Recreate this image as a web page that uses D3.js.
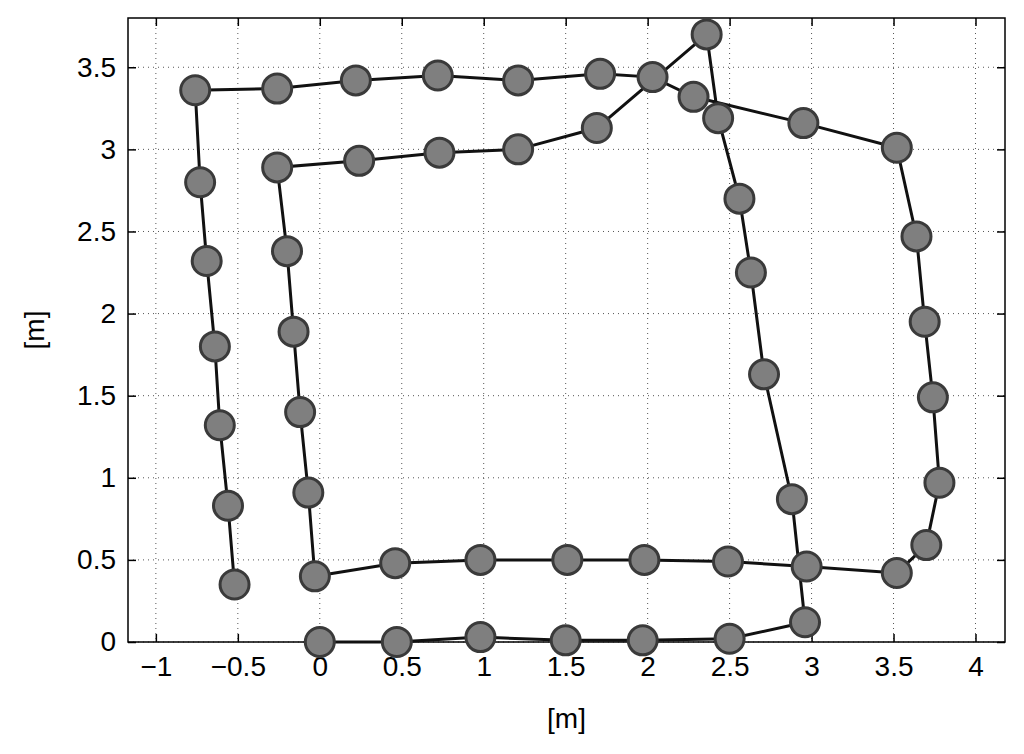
<!DOCTYPE html><html><head><meta charset="utf-8">
<script src="https://cdn.jsdelivr.net/npm/d3@7"></script>
<style>body{margin:0;background:#fff}</style></head><body>
<svg id="c" width="1024" height="754"></svg>
<script>
const xs=[0,0.47,0.98,1.5,1.97,2.5,2.96,2.88,2.71,2.63,2.56,2.43,2.36,1.69,1.21,0.73,0.24,-0.26,-0.2,-0.16,-0.12,-0.07,-0.03,0.46,0.98,1.51,1.98,2.49,2.97,3.52,3.7,3.78,3.74,3.69,3.64,3.52,2.95,2.28,2.03,1.71,1.21,0.72,0.22,-0.26,-0.76,-0.73,-0.69,-0.64,-0.61,-0.56,-0.52];
const ys=[0,0,0.03,0.01,0.01,0.02,0.12,0.87,1.63,2.25,2.7,3.19,3.7,3.13,3.0,2.98,2.93,2.89,2.38,1.89,1.4,0.91,0.4,0.48,0.5,0.5,0.5,0.49,0.46,0.42,0.59,0.97,1.49,1.95,2.47,3.01,3.16,3.32,3.44,3.46,3.42,3.45,3.42,3.37,3.36,2.8,2.32,1.8,1.32,0.83,0.35];
const xTicks=[-1,-0.5,0,0.5,1,1.5,2,2.5,3,3.5,4];
const yTicks=[0,0.5,1,1.5,2,2.5,3,3.5];
const L=128,R=1005,T=18,B=642;
const x=d3.scaleLinear().domain([-1.17,4.18]).range([L,R]);
const y=d3.scaleLinear().domain([0,3.8]).range([B,T]);
const svg=d3.select("#c");
const font="'Liberation Sans',Arial,sans-serif";
const fmt=d=>(d<0?"\u2212":"")+String(Math.abs(d));
const g=svg.append("g");
g.selectAll(".gx").data(xTicks).join("line").attr("x1",d=>x(d)).attr("x2",d=>x(d)).attr("y1",T).attr("y2",B).attr("stroke","#555").attr("stroke-width",1).attr("stroke-dasharray","1,4");
g.selectAll(".gy").data(yTicks).join("line").attr("y1",d=>y(d)).attr("y2",d=>y(d)).attr("x1",L).attr("x2",R).attr("stroke","#555").attr("stroke-width",1).attr("stroke-dasharray","1,4");
const xa=svg.append("g").attr("transform",`translate(0,${B})`).call(d3.axisBottom(x).tickValues(xTicks).tickSizeInner(-8).tickSizeOuter(0).tickPadding(14).tickFormat(fmt));
const xt=svg.append("g").attr("transform",`translate(0,${T})`).call(d3.axisTop(x).tickValues(xTicks).tickSizeInner(-8).tickSizeOuter(0).tickFormat(""));
const ya=svg.append("g").attr("transform",`translate(${L},0)`).call(d3.axisLeft(y).tickValues(yTicks).tickSizeInner(-8).tickSizeOuter(0).tickPadding(12).tickFormat(fmt));
const yr=svg.append("g").attr("transform",`translate(${R},0)`).call(d3.axisRight(y).tickValues(yTicks).tickSizeInner(-8).tickSizeOuter(0).tickFormat(""));
[xa,xt,ya,yr].forEach(a=>{a.select(".domain").remove();a.selectAll("line").attr("stroke","#000").attr("stroke-width",1.5);a.selectAll("text").attr("font-family",font).attr("font-size",28).attr("fill","#000");});
svg.append("rect").attr("x",L).attr("y",T).attr("width",R-L).attr("height",B-T).attr("fill","none").attr("stroke","#000").attr("stroke-width",1.5);
const pts=xs.map((v,i)=>[v,ys[i]]);
svg.append("path").attr("d",d3.line().x(d=>x(d[0])).y(d=>y(d[1]))(pts)).attr("fill","none").attr("stroke","#111").attr("stroke-width",3);
svg.selectAll(".pt").data(pts).join("circle").attr("cx",d=>x(d[0])).attr("cy",d=>y(d[1])).attr("r",14.5).attr("fill","#7f7f7f").attr("stroke","#3a3a3a").attr("stroke-width",3);
svg.append("text").attr("x",(L+R)/2).attr("y",728).attr("text-anchor","middle").attr("font-family",font).attr("font-size",28).text("[m]");
svg.append("text").attr("transform",`translate(44,${(T+B)/2}) rotate(-90)`).attr("text-anchor","middle").attr("font-family",font).attr("font-size",28).text("[m]");
</script></body></html>
